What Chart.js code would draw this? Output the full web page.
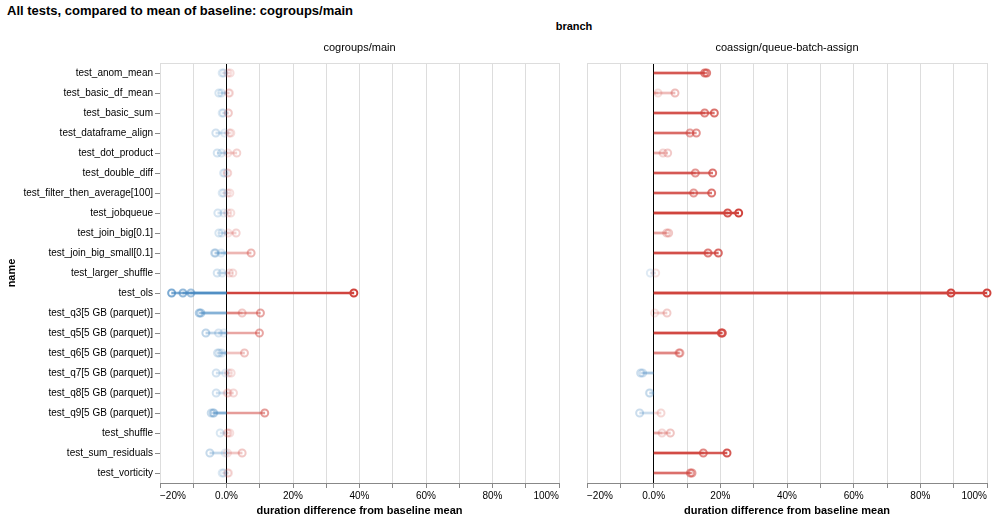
<!DOCTYPE html>
<html>
<head>
<meta charset="utf-8">
<script src="https://cdn.jsdelivr.net/npm/chart.js@4/dist/chart.umd.min.js"></script>
<style>
  html, body { margin: 0; padding: 0; background: #fff; }
  body { width: 998px; height: 522px; position: relative; overflow: hidden;
         font-family: Helvetica, 'Liberation Sans', Arial, sans-serif; color: #000; }
  #title { position: absolute; left: 7px; top: 3px; font-size: 13px; font-weight: bold; white-space: nowrap; }
  #branch { position: absolute; left: 474px; width: 200px; text-align: center; top: 20px; font-size: 11px; font-weight: bold; }
  .facet { position: absolute; top: 0; height: 522px; }
  #fa { left: 0; width: 575px; }
  #fb { left: 575px; width: 423px; }
</style>
</head>
<body>
<div id="title">All tests, compared to mean of baseline: cogroups/main</div>
<div id="branch">branch</div>
<div class="facet" id="fa"><canvas id="ca"></canvas></div>
<div class="facet" id="fb"><canvas id="cb"></canvas></div>
<script>
// ---- data ----
const names = ['test_anom_mean','test_basic_df_mean','test_basic_sum','test_dataframe_align','test_dot_product',
  'test_double_diff','test_filter_then_average[100]','test_jobqueue','test_join_big[0.1]','test_join_big_small[0.1]',
  'test_larger_shuffle','test_ols','test_q3[5 GB (parquet)]','test_q5[5 GB (parquet)]','test_q6[5 GB (parquet)]',
  'test_q7[5 GB (parquet)]','test_q8[5 GB (parquet)]','test_q9[5 GB (parquet)]','test_shuffle','test_sum_residuals','test_vorticity'];

const facetNames = ['cogroups/main', 'coassign/queue-batch-assign'];

// baseline branch (cogroups/main) runs, % difference from baseline mean
const baseRun1 = [-1.3,-2.3,-1.3,-3.2,-2.8,-0.9,-1.3,-2.6,-2.3,-3.6,-2.8,-16.5,-8.2,-6.2,-2.7,-3.1,-3.1,-4.6,-1.9,-5.0,-1.3];
const baseRun2 = [-0.8,-1.5,-0.9,-0.6,-1.5,-0.5,-0.8,-0.8,-1.4,-3.3,-1.3,-13.1,-7.7,-2.4,-2.2,-0.3,0.2,-4.0,0.2,-0.4,-0.8];
const baseRun3 = [0.4,0.6,0.5,0.8,0.4,0.2,0.3,0.4,0.5,-1.6,0.9,-10.7,4.7,-0.8,-1.4,0.6,0.5,-3.8,0.4,0.3,0.3];
const baseRun4 = [1.1,0.9,0.6,1.3,3.1,0.4,1.0,1.3,2.9,7.4,1.9,38.3,10.2,9.9,5.4,1.4,2.1,11.5,1.0,4.7,0.6];

// comparison branch (coassign/queue-batch-assign) runs
const cmpRun1 = [15.3,1.3,15.3,10.9,2.8,12.5,12.0,22.2,3.9,16.3,-1.0,89.2,0.3,20.3,7.6,-3.9,-1.3,-4.2,2.5,14.9,11.0];
const cmpRun2 = [15.9,6.4,18.2,12.8,4.2,17.7,17.4,25.5,4.5,19.4,0.6,100.0,4.0,20.6,7.9,-3.3,-1.1,2.2,5.0,22.0,11.5];

const xMin = -20, xMax = 100, xStep = 10;
const xTickLabels = ['\u221220%','','0.0%','','20%','','40%','','60%','','80%','','100%'];

// ---- styling ----
Chart.defaults.font.family = "Helvetica, 'Liberation Sans', Arial, sans-serif";
Chart.defaults.color = '#000';
const RED = '208,68,62', BLUE = '70,135,192';
function colorFor(v) {
  const a = Math.min(1, 0.14 + Math.abs(v) * 0.034);
  return 'rgba(' + (v < 0 ? BLUE : RED) + ',' + a.toFixed(3) + ')';
}

function makeDatasets(runs) {
  const ds = [];
  runs.forEach(run => {
    ds.push({
      type: 'scatter',
      data: run.map((v, i) => ({ x: v, y: names[i] })),
      pointRadius: 3.5,
      pointBorderWidth: 2,
      pointBackgroundColor: 'rgba(255,255,255,0)',
      pointBorderColor: ctx => colorFor(ctx.raw.x),
      clip: false,
      order: 0
    });
  });
  runs.forEach(run => {
    ds.push({
      type: 'bar',
      indexAxis: 'y',
      grouped: false,
      barThickness: 2,
      data: run.map(v => [0, v]),
      backgroundColor: ctx => colorFor(ctx.raw[1]),
      borderWidth: 0,
      order: 1
    });
  });
  return ds;
}

function makeOptions(facetTitle, showY, pad) {
  return {
    responsive: true,
    maintainAspectRatio: false,
    animation: false,
    events: [],
    indexAxis: 'y',
    layout: { padding: pad },
    plugins: {
      legend: { display: false },
      tooltip: { enabled: false },
      title: {
        display: true, text: facetTitle, fullSize: false,
        font: { size: 11, weight: 'normal' }, color: '#000',
        padding: { top: 0, bottom: 8.4 }
      }
    },
    scales: {
      x: {
        type: 'linear', position: 'bottom', min: xMin, max: xMax,
        ticks: {
          stepSize: xStep, autoSkip: false, maxRotation: 0, align: 'inner',
          font: { size: 10 }, color: '#000', padding: 2,
          callback: (v, i) => xTickLabels[i]
        },
        grid: {
          color: ctx => (ctx.tick && ctx.tick.value === 0) ? '#000' : '#ddd',
          lineWidth: 1, drawTicks: true, tickLength: 5, tickColor: '#888'
        },
        border: { display: true, color: '#888' },
        title: {
          display: true, text: 'duration difference from baseline mean',
          font: { size: 11, weight: 'bold' }, color: '#000',
          padding: { top: 2, bottom: 4 }
        },
        afterFit: s => { s.height = 39; }
      },
      x2: {
        type: 'linear', position: 'top', min: xMin, max: xMax,
        ticks: { display: false },
        grid: { display: false, drawTicks: false },
        border: { display: true, color: '#ddd' },
        afterFit: s => { s.height = 0; }
      },
      y: {
        type: 'category', labels: names, offset: true,
        display: showY,
        ticks: { font: { size: 10 }, color: '#000', padding: 2, autoSkip: false },
        grid: { display: true, drawOnChartArea: false, drawTicks: true, tickLength: 5, tickColor: '#888', offset: false },
        border: { display: false },
        title: {
          display: true, text: 'name',
          font: { size: 11, weight: 'bold' }, color: '#000',
          padding: { top: 5, bottom: 0 }
        },
        afterFit: s => { s.width = showY ? 160 : 0; }
      }
    }
  };
}

new Chart(document.getElementById('ca'), {
  type: 'bar',
  data: { labels: names, datasets: makeDatasets([baseRun1, baseRun2, baseRun3, baseRun4]) },
  options: makeOptions(facetNames[0], true, { top: 41.4, right: 16, bottom: 0, left: 0 })
});

new Chart(document.getElementById('cb'), {
  type: 'bar',
  data: { labels: names, datasets: makeDatasets([cmpRun1, cmpRun2]) },
  options: makeOptions(facetNames[1], false, { top: 41.4, right: 11, bottom: 0, left: 12 })
});
</script>
</body>
</html>
